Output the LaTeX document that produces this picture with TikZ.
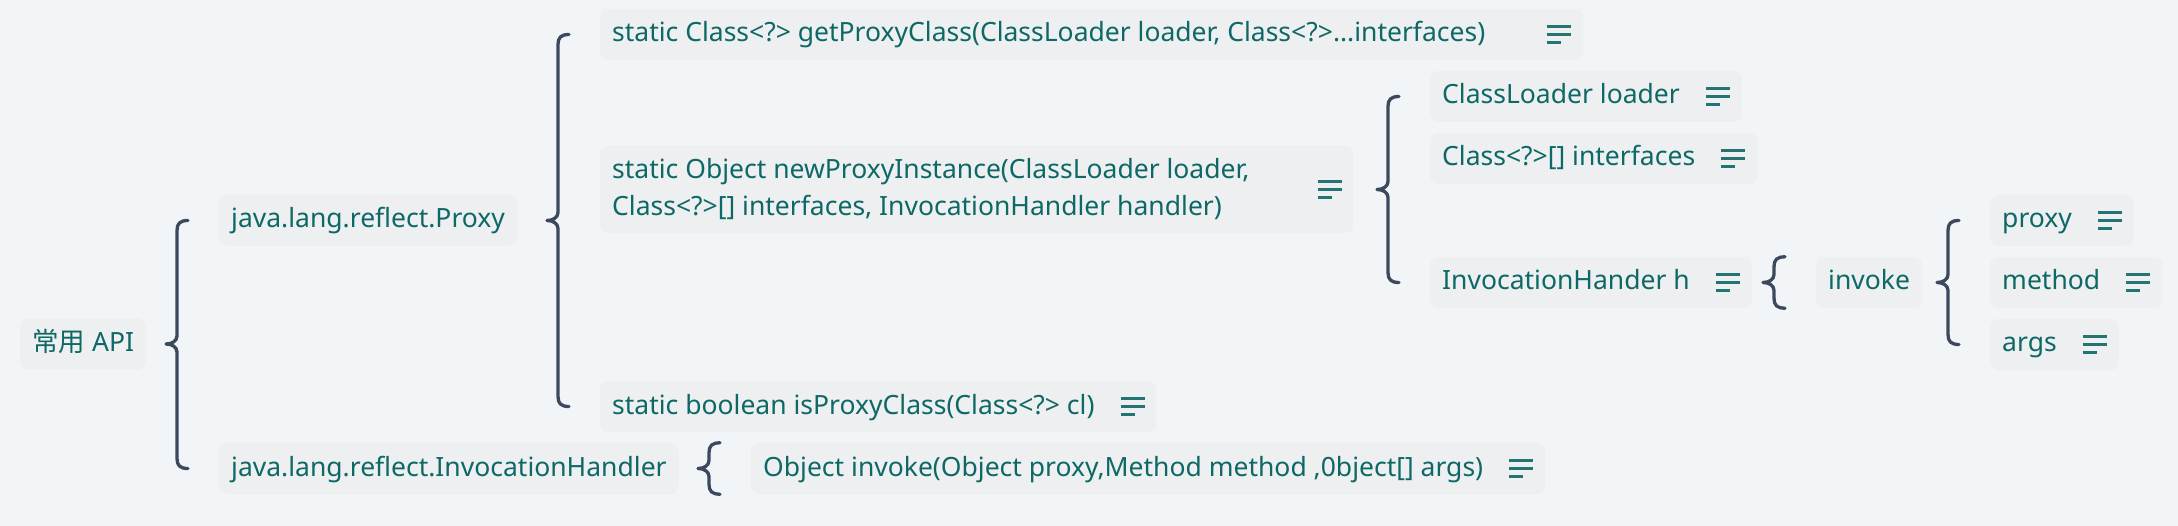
\documentclass[tikz,border=0pt]{standalone}
\usepackage{fontspec}
\setmainfont{Noto Sans}
\newfontfamily\cjk{Noto Sans CJK SC}
\usetikzlibrary{calc}
\usetikzlibrary{positioning}
\definecolor{canvas}{RGB}{242,245,248}
\definecolor{topicfill}{RGB}{237,239,241}
\definecolor{inkteal}{RGB}{14,104,102}
\definecolor{memoteal}{RGB}{36,116,116}
\definecolor{slate}{RGB}{60,72,92}

\tikzset{
  topic/.style={fill=topicfill, rounded corners=8pt, anchor=west, text=inkteal,
    inner xsep=12pt, inner ysep=7pt, minimum height=51pt, align=left,
    text height=26pt, text depth=11pt,
    font=\fontsize{26.5}{37}\selectfont},
  bracket/.style={draw=slate, line width=3.3pt, line cap=round, line join=round},
  memo/.style={draw=memoteal, line width=2.2pt}
}
% curly bracket from a parent anchor to the first and last child anchors
\newcommand{\branch}[3]{%
  \draw[bracket] let \p1=(#1), \p2=(#2), \p3=(#3) in
    ({\x2-31pt},\y2) .. controls ({\x2-39pt},\y2) and ({\x2-42pt},{\y2-3pt}) .. ({\x2-42pt},{\y2-10pt})
    -- ({\x2-42pt},{\y1+8pt}) .. controls ({\x2-42pt},{\y1+3pt}) and ({\x2-47pt},\y1) .. ({\x2-53pt},\y1)
    .. controls ({\x2-47pt},\y1) and ({\x2-42pt},{\y1-3pt}) .. ({\x2-42pt},{\y1-8pt})
    -- ({\x2-42pt},{\y3+10pt}) .. controls ({\x2-42pt},{\y3+3pt}) and ({\x2-39pt},\y3) .. ({\x2-31pt},\y3);}
% notes icon at the right end of a topic
\newcommand{\memo}[1]{%
  \draw[memo] ([shift={(-36,-8)}]#1.east) -- ++(24,0)
              ([shift={(-36,0)}]#1.east) -- ++(24,0)
              ([shift={(-36,8)}]#1.east) -- ++(14,0);}
\newcommand{\gap}{\hspace{50pt}}

\begin{document}
\begin{tikzpicture}[x=1pt, y=-1pt]
  % Frame to fix the margins:
  \fill[canvas] (0,0) rectangle (2178,526);
  \useasboundingbox (0,0) rectangle (2178,526);

  \node[topic] (root)    at (20,344)    {{\cjk 常用} API};
  \node[topic] (proxy)   at (219,220.5) {java.lang.reflect.Proxy};
  \node[topic] (ih)      at (219,468.5) {java.lang.reflect.InvocationHandler};

  \node[topic] (getclass) at (600,34.5)  {static Class<?> getProxyClass(ClassLoader loader, Class<?>...interfaces)\hspace{86pt}};
  \node[topic, text height=62.5pt, text depth=10.5pt] (newinst) at (600,189.5)
    {static Object newProxyInstance(ClassLoader loader,\hspace*{92pt}\\Class<?>[] interfaces, InvocationHandler handler)};
  \node[topic] (isclass)  at (600,406.5) {static boolean isProxyClass(Class<?> cl)\gap};

  \node[topic] (loader)  at (1430,96.5)  {ClassLoader loader\gap};
  \node[topic] (ifaces)  at (1430,158.5) {Class<?>[] interfaces\gap};
  \node[topic] (handler) at (1430,282.5) {InvocationHander h\gap};
  \node[topic] (invoke)  at (1816,282.5) {invoke};

  \node[topic] (argproxy)  at (1990,220.5) {proxy\gap};
  \node[topic] (argmethod) at (1990,282.5) {method\gap};
  \node[topic] (argargs)   at (1990,344.5) {args\gap};

  \node[topic] (objinvoke) at (751,468.5) {Object invoke(Object proxy,Method method ,0bject[] args)\gap};

  \branch{root.east}{proxy.west}{ih.west}
  \branch{proxy.east}{getclass.west}{isclass.west}
  \branch{newinst.east}{loader.west}{handler.west}
  \branch{handler.east}{invoke.north west}{invoke.south west}
  \branch{invoke.east}{argproxy.west}{argargs.west}
  \branch{ih.east}{objinvoke.north west}{objinvoke.south west}

  \foreach \n in {getclass,newinst,isclass,loader,ifaces,handler,argproxy,argmethod,argargs,objinvoke}
    \memo{\n};
\end{tikzpicture}
\end{document}
